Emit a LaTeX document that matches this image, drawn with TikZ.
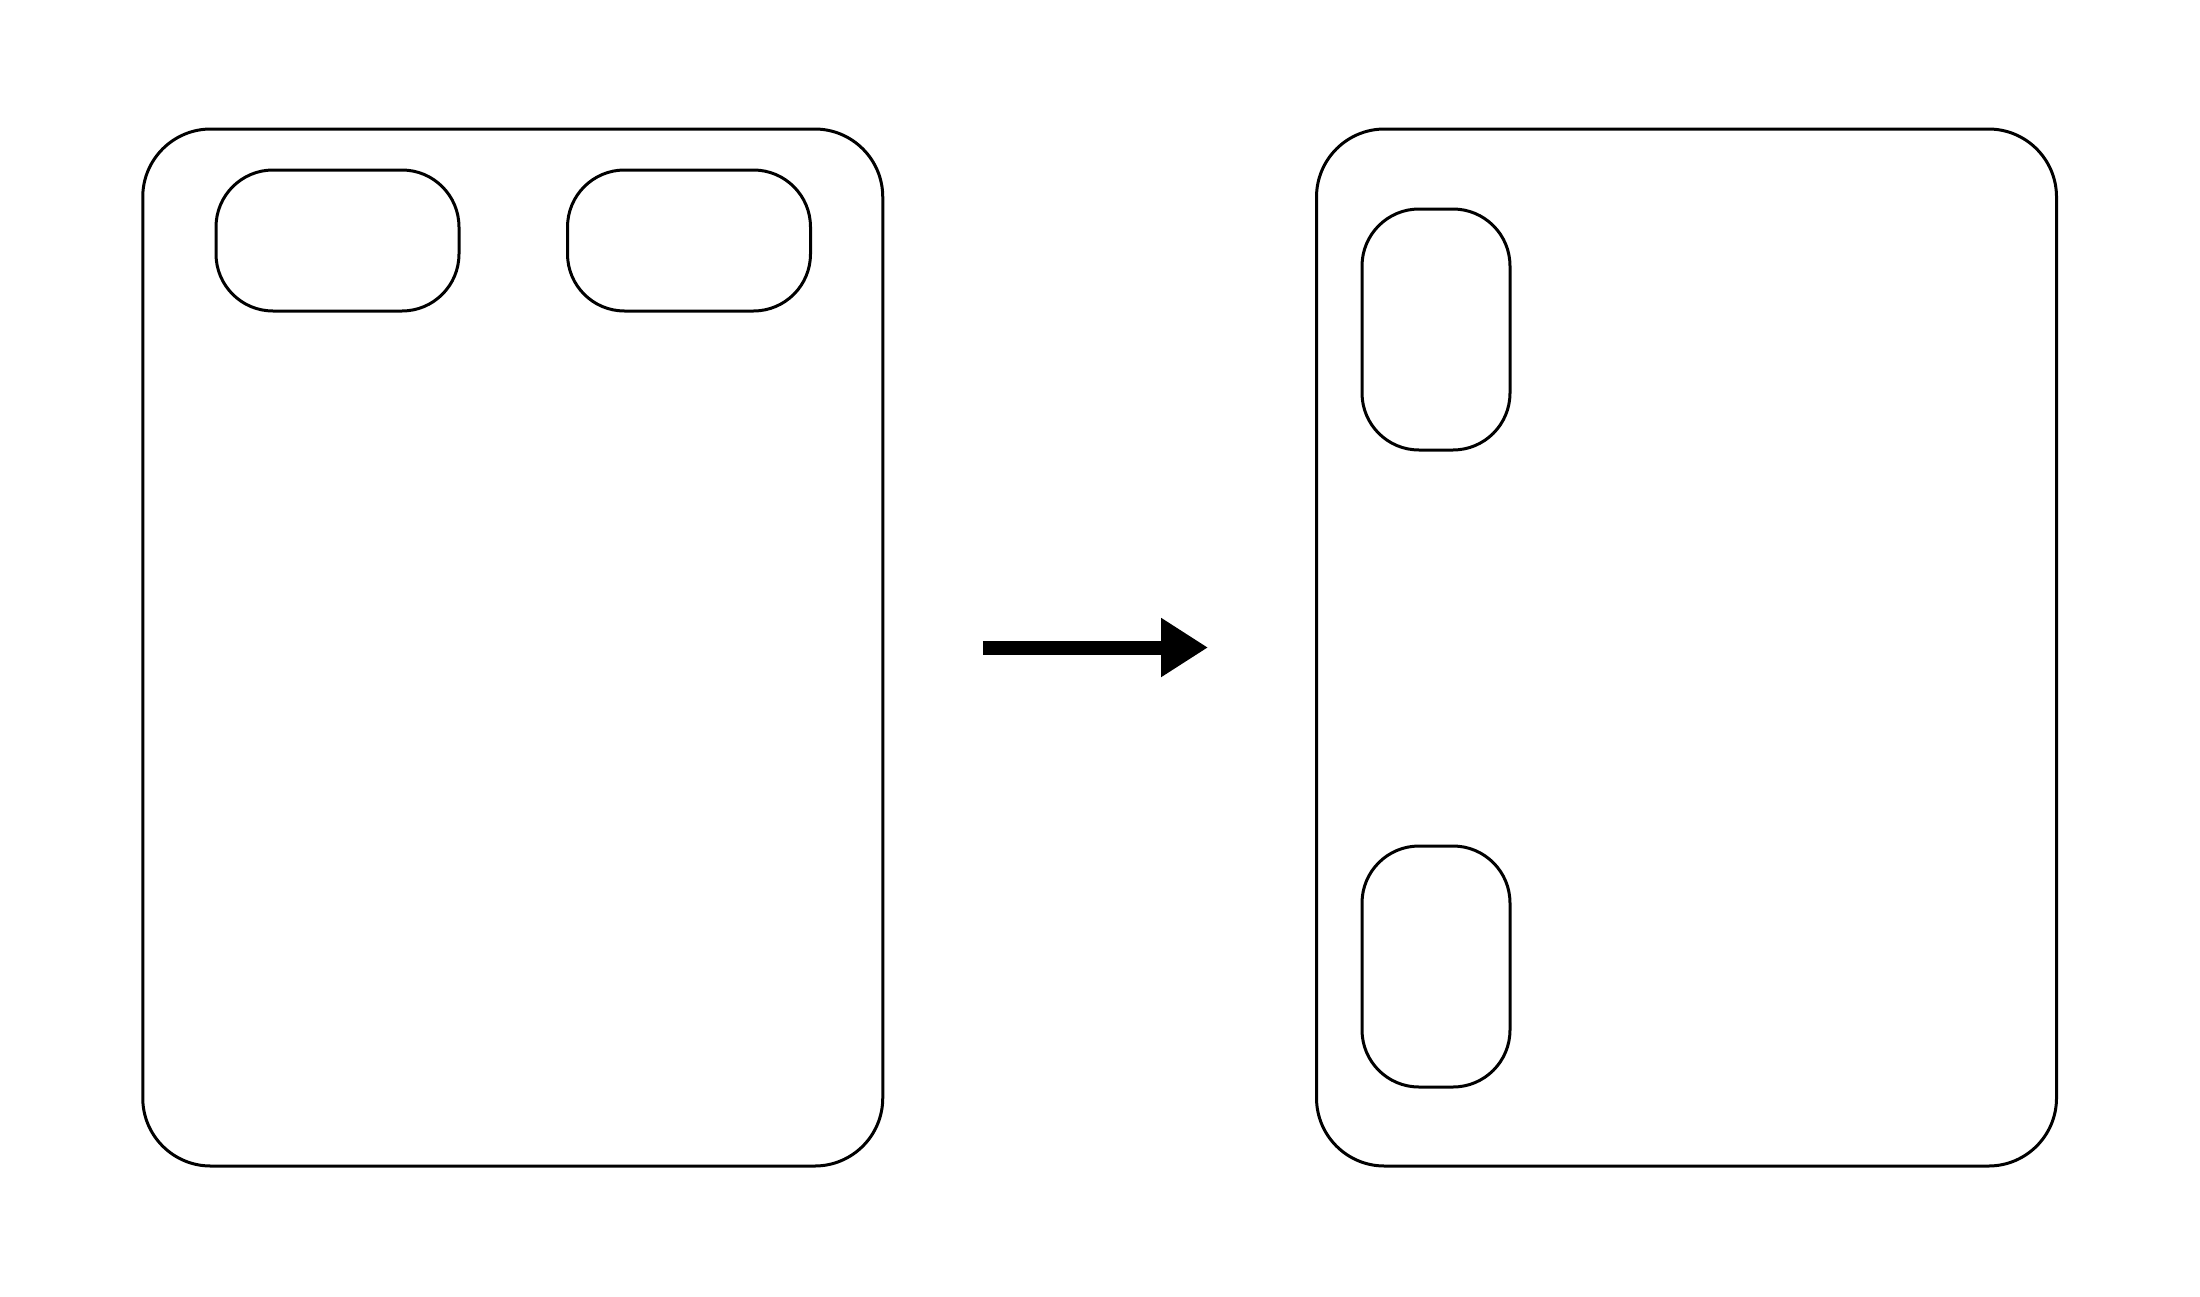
\documentclass[tikz,border=0pt]{standalone}
\usetikzlibrary{arrows.meta}
\begin{document}
\begin{tikzpicture}[
  outerbox/.style={draw=black, line width=0.03cm, rounded corners=0.68cm, inner sep=0pt, minimum width=7.40cm, minimum height=10.37cm},
  hbox/.style={draw=black, line width=0.03cm, rounded corners=0.57cm, inner sep=0pt, minimum width=2.43cm, minimum height=1.41cm},
  vbox/.style={draw=black, line width=0.03cm, rounded corners=0.57cm, inner sep=0pt, minimum width=1.48cm, minimum height=2.41cm},
  bigarrow/.style={line width=0.14cm, -{Triangle[length=0.47cm, width=0.56cm]}}
]
\fill[white] (0,0) rectangle (22,-12.96);
\useasboundingbox (0,0) rectangle (22,-12.96);
\node[outerbox] (L) at (5.1275,-6.475) {};
\node[outerbox] (R) at (16.865,-6.475) {};
\node[hbox] (a) at (3.375,-2.405) {};
\node[hbox] (b) at (6.89,-2.405) {};
\node[vbox] (c) at (14.36,-3.295) {};
\node[vbox] (d) at (14.36,-9.665) {};
\draw[bigarrow] ([xshift=0.985cm]L.east) -- ([xshift=-1.07cm]R.west);
\end{tikzpicture}
\end{document}
